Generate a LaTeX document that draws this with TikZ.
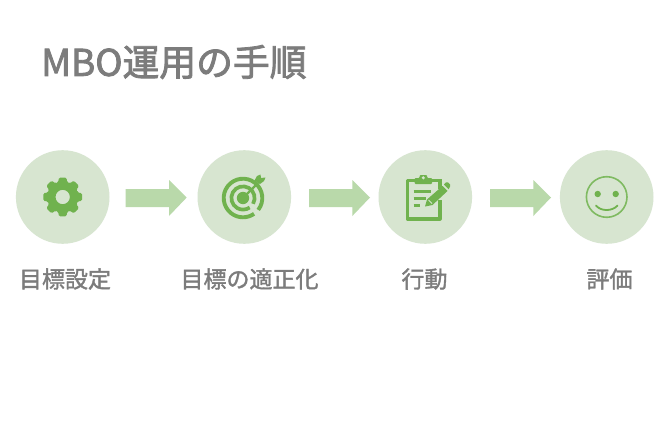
\documentclass[tikz,border=0pt]{standalone}
\usepackage{fontspec}
\setmainfont{Noto Sans CJK JP}
\newcommand{\heavy}[2]{\special{pdf:code 2 Tr #1 w}#2\special{pdf:code 0 Tr 1 w}}
\definecolor{disccol}{HTML}{D7E5D0}
\definecolor{flow}{HTML}{B9D9AA}
\definecolor{icon}{HTML}{70B24E}
\definecolor{ink}{HTML}{7C7C7C}
\usetikzlibrary{calc}
\tikzset{
 x=1pt,y=-1pt,
 discnode/.style={circle,fill=disccol,draw=none,minimum size=93.6pt,inner sep=0pt},
 steplabel/.style={text=ink,font=\fontsize{23}{26}\selectfont,inner sep=0pt,anchor=center},
}
\newcommand{\flowarrow}[1]{\fill[flow] (#1,189) -- ++(43.3,0) -- ++(0,-9) -- ++(17.7,17.5) -- ++(-17.7,18.5) -- ++(0,-9) -- ++(-43.3,0) -- cycle;}
\begin{document}
\begin{tikzpicture}
\useasboundingbox (0,0) rectangle (670,447);
\fill[white] (0,0) rectangle (670,447);
\node[text=ink,font=\fontsize{36.8}{40}\selectfont,inner sep=0pt,anchor=west] (title) at (41,62) {\heavy{0.8}{MBO運用の手順}};
\node[discnode] (c1) at (62.7,197) {};
\node[discnode] (c2) at (244.3,197) {};
\node[discnode] (c3) at (425.3,197) {};
\node[discnode] (c4) at (606.7,197) {};
\flowarrow{125.7}
\flowarrow{309}
\flowarrow{490}
% gear
\fill[icon,even odd rule,rounded corners=1.4pt]
 ($(c1)+(-17:15.4)$)
 \foreach \a in {0,45,...,315}{
  -- ($(c1)+({\a-11}:19.8)$) -- ($(c1)+({\a+11}:19.8)$) -- ($(c1)+({\a+17}:15.4)$) -- ($(c1)+({\a+28}:15.4)$)
 } -- cycle
 (c1) circle[radius=7.2];
% target
\coordinate (t) at (243,198);
\draw[icon,line width=3.9pt] ([shift={(38:19.3)}]t) arc[start angle=38,end angle=-305,radius=19.3];
\draw[icon,line width=3.7pt] ([shift={(30:11.6)}]t) arc[start angle=30,end angle=-305,radius=11.6];
\fill[icon] (t) circle[radius=6.2];
\draw[icon,line width=2.4pt] (t) -- (258,183);
\fill[icon] (254.5,180.5) -- (257,176) -- (260.5,174.5) -- (261,178) -- (265.5,177.5) -- (264,181) -- (260,184) -- cycle;
% clipboard
\draw[icon,line width=3.2pt,line join=round] (415,180.5) -- (407.5,180.5) -- (407.5,219) -- (440,219) -- (440,200);
\draw[icon,line width=3.2pt] (431,180.5) -- (440,180.5) -- (440,189);
\fill[icon,rounded corners=1pt] (414.5,178) -- (419.5,178) -- (419.5,175) -- (427,175) -- (427,178) -- (432,178) -- (432,184) -- (414.5,184) -- cycle;
\fill[disccol] (423.3,177.8) circle[radius=1.7];
\draw[icon,line width=2.4pt] (413.5,191.5) -- (431,191.5);
\draw[icon,line width=2.4pt] (413.5,198.5) -- (426,198.5);
\draw[icon,line width=2.4pt] (413.5,205.5) -- (420,205.5);
\fill[icon] (425,206.5) -- (427,199.5) -- (442.5,186) -- (447.5,191) -- (432.5,205) -- cycle;
\fill[icon] (444,184.5) -- (446,182.3) -- (448,182.3) -- (450,184.5) -- (450,186.5) -- (448.7,189.3) -- cycle;
\draw[disccol,line width=0.9pt] (428.6,200) -- (432,203.6);
% smiley
\draw[draw=icon!85!disccol,line width=1.6pt] (c4) circle[radius=20.3];
\fill[icon] (597.7,194) circle[radius=3.2] (615.7,194) circle[radius=3.2];
\draw[icon,line width=1.8pt,line cap=round] (596,205.6) .. controls (601,211.5) and (612,211.5) .. (617.5,205.6);
% labels
\node[steplabel] (l1) at (65,279) {\heavy{0.35}{目標設定}};
\node[steplabel] (l2) at (249.5,279) {\heavy{0.35}{目標の適正化}};
\node[steplabel] (l3) at (424.5,279) {\heavy{0.35}{行動}};
\node[steplabel] (l4) at (609.5,279) {\heavy{0.35}{評価}};
\end{tikzpicture}
\end{document}
